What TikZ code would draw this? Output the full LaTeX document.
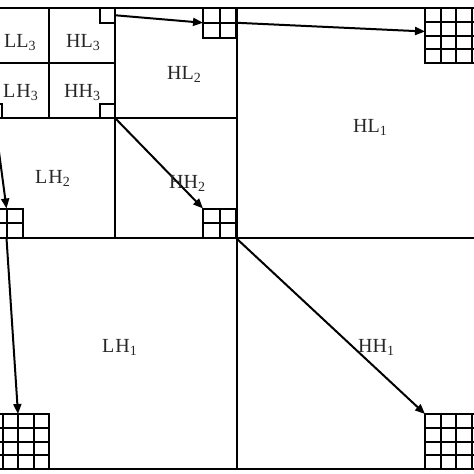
\documentclass[tikz,border=0pt]{standalone}
\usepackage{fontspec}
\setmainfont{Liberation Serif}
\usetikzlibrary{arrows.meta,calc}
\newcommand{\cellgridlines}[2]{%
  \foreach \f in {#2}{%
    \draw[line] ($(#1.north west)!\f!(#1.north east)$) -- ($(#1.south west)!\f!(#1.south east)$);
    \draw[line] ($(#1.north west)!\f!(#1.south west)$) -- ($(#1.north east)!\f!(#1.south east)$);
  }}
\begin{document}
\begin{tikzpicture}[x=1pt,y=-1pt,
  line/.style={line width=2pt, black},
  box/.style={draw, line width=2pt, inner sep=0pt, outer sep=0pt, anchor=north west, fill=white},
  arr/.style={line width=2pt, black, -{Triangle[length=10pt,width=8pt]}},
  lab/.style={anchor=base west, inner sep=0pt, font=\fontsize{20}{20}\selectfont, text=black!85}]
\useasboundingbox (0,0) rectangle (474,474);
\clip (0,0) rectangle (474,474);
\fill[white] (0,0) rectangle (474,474);
% subband boundaries
\draw[line] (-12,8) rectangle (487,469);
\draw[line] (237,8) -- (237,469);
\draw[line] (-12,238) -- (487,238);
\draw[line] (115,8) -- (115,238);
\draw[line] (-12,118) -- (237,118);
\draw[line] (49,8) -- (49,118);
\draw[line] (-12,63) -- (115,63);
% level 3 single squares
\node[box, minimum width=15pt, minimum height=14.5pt] (sqHL3) at (100,8) {};
\node[box, minimum width=15pt, minimum height=14.5pt] (sqHH3) at (100,103.5) {};
\node[box, minimum width=15pt, minimum height=14.5pt] (sqLH3) at (-13,103.5) {};
% level 2 grids 2x2
\node[box, minimum width=33pt, minimum height=29.5pt] (gHL2) at (203,8) {};
\node[box, minimum width=33pt, minimum height=29.5pt] (gHH2) at (203,208.5) {};
\node[box, minimum width=33pt, minimum height=29.5pt] (gLH2) at (-10,208.5) {};
\cellgridlines{gHL2}{0.5}
\cellgridlines{gHH2}{0.5}
\cellgridlines{gLH2}{0.5}
% level 1 grids 4x4
\node[box, minimum width=62pt, minimum height=55pt] (gHL1) at (425,8) {};
\node[box, minimum width=62pt, minimum height=55pt] (gHH1) at (425,414) {};
\node[box, minimum width=62pt, minimum height=55pt] (gLH1) at (-13,414) {};
\cellgridlines{gHL1}{0.25,0.5,0.75}
\cellgridlines{gHH1}{0.25,0.5,0.75}
\cellgridlines{gLH1}{0.25,0.5,0.75}
% arrows
\draw[arr] (sqHL3.east) -- (gHL2.west);
\draw[arr] (gHL2.east) -- ($(gHL1.west)+(0,-4)$);
\draw[arr] (sqHH3.south east) -- (gHH2.north west);
\draw[arr] (gHH2.south east) -- (gHH1.north west);
\draw[arr] (sqLH3.south) -- (gLH2.north);
\draw[arr] (gLH2.south) -- (gLH1.north);
% labels
\node[lab] (tLL3) at (4,47) {LL\textsubscript{3}};
\node[lab] (tHL3) at (66,47) {HL\textsubscript{3}};
\node[lab] (tLH3) at (3,97) {L\kern1ptH\textsubscript{3}};
\node[lab] (tHH3) at (64,97) {HH\textsubscript{3}};
\node[lab] (tHL2) at (167,79) {HL\textsubscript{2}};
\node[lab] (tLH2) at (35,183) {L\kern1ptH\textsubscript{2}};
\node[lab] (tHH2) at (169,188) {HH\textsubscript{2}};
\node[lab] (tHL1) at (353,132) {HL\textsubscript{1}};
\node[lab] (tLH1) at (102,352) {L\kern1ptH\textsubscript{1}};
\node[lab] (tHH1) at (358,352) {HH\textsubscript{1}};
\end{tikzpicture}
\end{document}
